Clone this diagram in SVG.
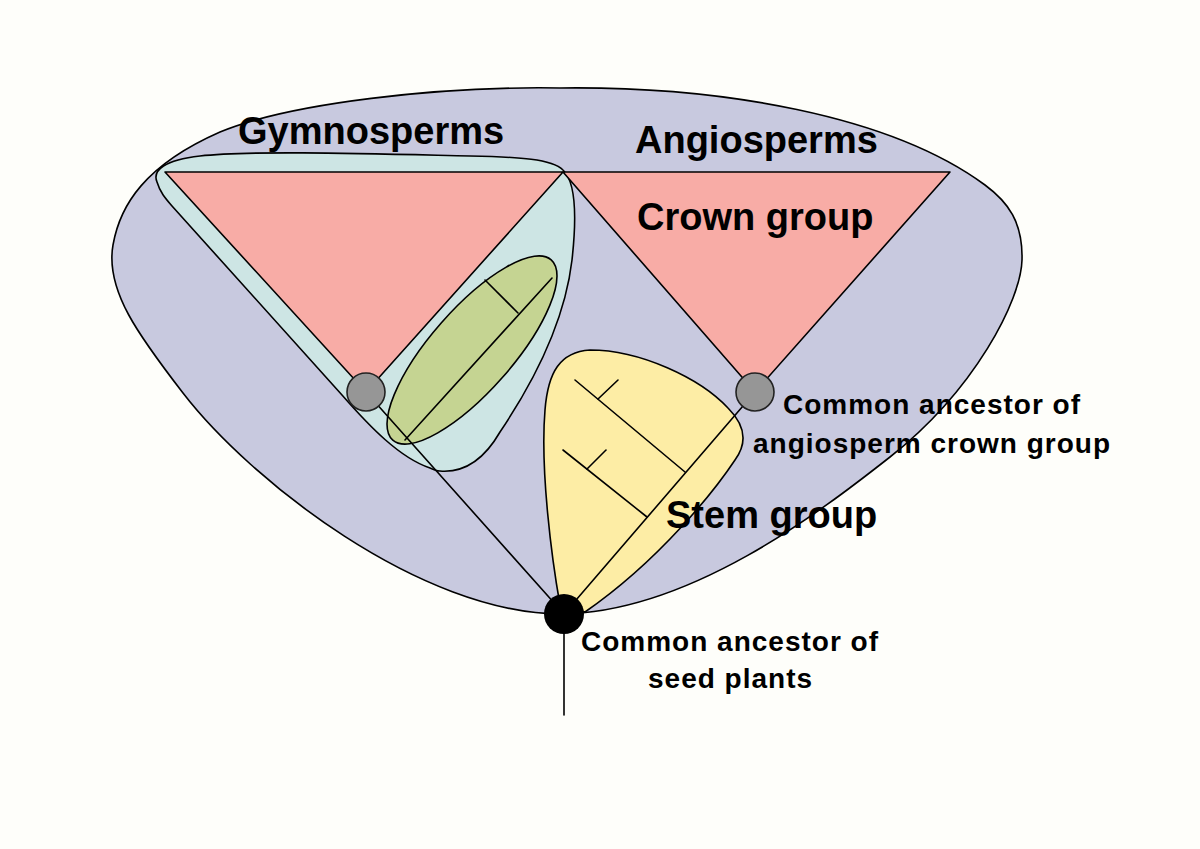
<svg xmlns="http://www.w3.org/2000/svg" width="1200" height="849" viewBox="0 0 1200 849">
<style>
.o{stroke:#000;stroke-width:1.6;stroke-linejoin:round}
.ln{stroke:#000;stroke-width:1.6;fill:none;stroke-linecap:round}
.big{font-family:"Liberation Sans",Arial,sans-serif;font-weight:bold;font-size:38px;fill:#000}
.sm{font-family:"Liberation Sans",Arial,sans-serif;font-weight:bold;font-size:28px;letter-spacing:1px;fill:#000}
</style>
<rect width="1200" height="849" fill="#FEFEFA"/>
<g id="seed-plants">
<path class="o" fill="#C8C9DF" d="M 562,614 C 420,614 250,480 183,393 C 139,336 105,290 113,245 C 120,205 145,165 220,132 C 290,103 440,86 560,88 C 720,86 890,115 985,185 C 1008,202 1023,222 1022,260 C 1021,300 975,390 890,457 C 820,512 690,612 562,614 Z"/>
</g>
<g id="gymnosperms">
<path class="o" fill="#CDE5E4" d="M 440,471 C 465,473 485,458 500,432 C 535,380 565,320 572,260 C 577,215 576,182 563,170 C 552,159 520,157 470,156 C 380,154 250,150 200,156 C 165,160 152,170 157,182 C 160,192 165,198 172,206 L 342,395 C 370,427 400,458 430,468 C 434,470 437,471 440,471 Z"/>
</g>
<g id="gymnosperm-crown">
<polygon class="o" fill="#F8ACA6" points="165,172 563,172 366,392"/>
</g>
<g id="angiosperm-crown">
<polygon class="o" fill="#F8ACA6" points="563,172 950,172 755,392"/>
</g>
<g id="gymnosperm-stem">
<ellipse class="o" fill="#C5D492" cx="472" cy="350" rx="120" ry="41" transform="rotate(-48.7 472 350)"/>
</g>
<g id="angiosperm-stem">
<path class="o" fill="#FDEDA5" d="M 560,605 C 552,560 540,470 545,410 C 548,372 560,352 590,350 C 640,350 700,378 728,408 C 748,428 746,445 735,460 C 715,490 660,560 585,612 Z"/>
</g>
<g id="connectors">
<line class="ln" x1="366" y1="392" x2="564" y2="614"/>
<line class="ln" x1="755" y1="392" x2="564" y2="614"/>
<line class="ln" x1="564" y1="614" x2="564" y2="715"/>
<line class="ln" x1="405" y1="440" x2="552" y2="278"/>
<line class="ln" x1="518" y1="313" x2="485" y2="280"/>
<line class="ln" x1="575" y1="380" x2="685" y2="472"/>
<line class="ln" x1="598" y1="399" x2="618" y2="380"/>
<line class="ln" x1="563" y1="450" x2="647" y2="517"/>
<line class="ln" x1="587" y1="469" x2="606" y2="450"/>
</g>
<g id="gymnosperm-ancestor">
<circle cx="366" cy="392" r="19" fill="#969696" stroke="#222" stroke-width="1.6"/>
</g>
<g id="angiosperm-ancestor">
<circle cx="755" cy="392" r="19" fill="#969696" stroke="#222" stroke-width="1.6"/>
</g>
<g id="seed-plant-ancestor">
<circle cx="564" cy="614" r="20" fill="#000"/>
</g>
<g id="labels">
<text class="big" x="238" y="144">Gymnosperms</text>
<text class="big" x="635" y="153">Angiosperms</text>
<text class="big" x="637" y="230">Crown group</text>
<text class="big" x="666" y="528">Stem group</text>
<text class="sm" x="783" y="414">Common ancestor of</text>
<text class="sm" x="753" y="453">angiosperm crown group</text>
<text class="sm" x="581" y="651">Common ancestor of</text>
<text class="sm" x="648" y="688">seed plants</text>
</g>
</svg>
